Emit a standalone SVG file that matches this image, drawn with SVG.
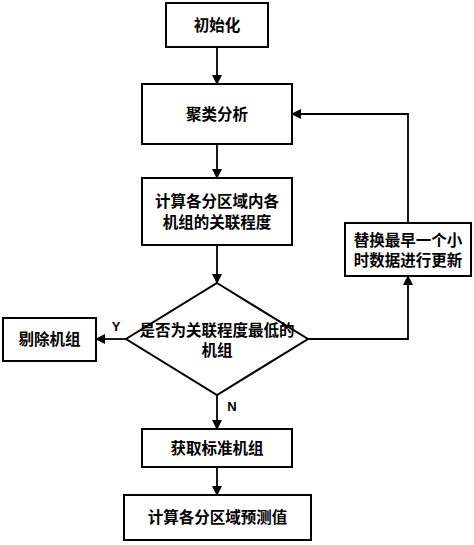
<svg xmlns="http://www.w3.org/2000/svg" width="474" height="545" viewBox="0 0 474 545">
<defs>
<marker id="ah" markerWidth="10" markerHeight="10" refX="9" refY="5" orient="auto" markerUnits="userSpaceOnUse">
<path d="M0,0 L10,5 L0,10 Z" fill="#000"/>
</marker>
<style>
.box{fill:#fff;stroke:#000;stroke-width:2}
.t{font-family:"Liberation Sans","Noto Sans CJK SC",sans-serif;font-size:15.5px;font-weight:bold;text-anchor:middle;dominant-baseline:central;fill:#000}
.l{font-family:"Liberation Sans",sans-serif;font-size:13px;font-weight:bold;text-anchor:middle;dominant-baseline:central;fill:#000}
.c{fill:none;stroke:#000;stroke-width:1.8;marker-end:url(#ah)}
</style>
</defs>
<rect width="474" height="545" fill="#fff"/>
<g id="connectors">
<path class="c" d="M217,47 V84"/>
<path class="c" d="M217,144 V178"/>
<path class="c" d="M217,245 V283"/>
<path class="c" d="M126,339 H96"/>
<path class="c" d="M308,339 H408 V276"/>
<path class="c" d="M408,223 V114 H292"/>
<path class="c" d="M217,395 V429"/>
<path class="c" d="M217,467 V495"/>
<text class="l" x="116" y="326">Y</text>
<text class="l" x="232" y="406">N</text>
</g>
<g id="init">
<rect class="box" x="166" y="3" width="102" height="44"/>
<text class="t" x="217" y="25">初始化</text>
</g>
<g id="cluster">
<rect class="box" x="142" y="84" width="150" height="60"/>
<text class="t" x="217" y="114">聚类分析</text>
</g>
<g id="calc">
<rect class="box" x="142" y="178" width="150" height="67"/>
<text class="t" x="217" y="201">计算各分区域内各</text>
<text class="t" x="217" y="222">机组的关联程度</text>
</g>
<g id="decision">
<polygon class="box" points="217,283 308,339 217,395 126,339"/>
<text class="t" x="217" y="330">是否为关联程度最低的</text>
<text class="t" x="217" y="350">机组</text>
</g>
<g id="remove">
<rect class="box" x="3" y="318" width="93" height="43"/>
<text class="t" x="49.5" y="339.5">剔除机组</text>
</g>
<g id="replace">
<rect class="box" x="345" y="223" width="126" height="53"/>
<text class="t" x="408" y="240">替换最早一个小</text>
<text class="t" x="408" y="260">时数据进行更新</text>
</g>
<g id="standard">
<rect class="box" x="142" y="429" width="150" height="38"/>
<text class="t" x="217" y="448">获取标准机组</text>
</g>
<g id="predict">
<rect class="box" x="124" y="495" width="187" height="45"/>
<text class="t" x="217.5" y="517.5">计算各分区域预测值</text>
</g>
</svg>
